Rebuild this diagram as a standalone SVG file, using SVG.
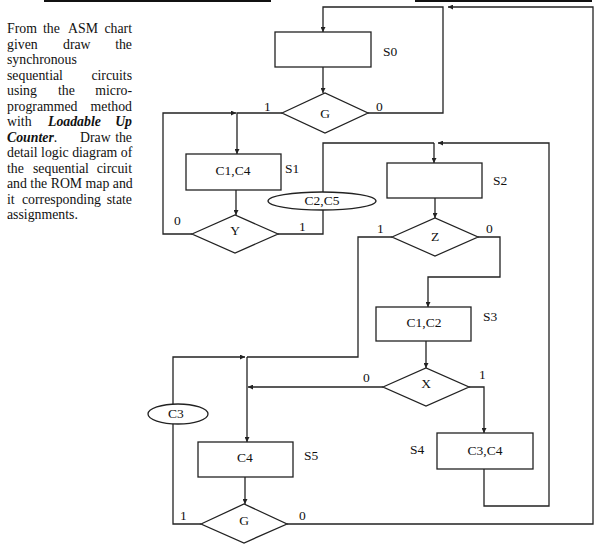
<svg xmlns="http://www.w3.org/2000/svg" width="599" height="548" viewBox="0 0 599 548">
<style>
.bx{fill:#fff;stroke:#222;stroke-width:1.3}
.cn{fill:none;stroke:#222;stroke-width:1.3}
.t{font-family:"Liberation Serif","Times New Roman",serif;font-size:13.5px;fill:#111}
.c{text-anchor:middle}
.p{font-family:"Liberation Serif","Times New Roman",serif;font-size:13.8px;fill:#111}
.bi{font-weight:bold;font-style:italic}
.e{text-anchor:end}
</style>
<defs>
<marker id="ah" markerUnits="userSpaceOnUse" markerWidth="6" markerHeight="5" refX="5" refY="2.5" orient="auto">
<path d="M0,0 L5,2.5 L0,5 z" fill="#222"/>
</marker>
</defs>
<rect x="0" y="0" width="599" height="548" fill="#fff"/>
<rect x="44" y="0" width="227" height="2" fill="#111"/>
<rect x="415" y="0" width="177" height="2" fill="#111"/>

<g id="question">
<text class="p" y="33"><tspan x="7">From</tspan><tspan x="43">the</tspan><tspan x="68">ASM</tspan><tspan x="132" class="e">chart</tspan></text>
<text class="p" y="48.5"><tspan x="7">given</tspan><tspan x="63">draw</tspan><tspan x="132" class="e">the</tspan></text>
<text class="p" x="7" y="64">synchronous</text>
<text class="p" y="79.5"><tspan x="7">sequential</tspan><tspan x="132" class="e">circuits</tspan></text>
<text class="p" y="95"><tspan x="7">using</tspan><tspan x="58">the</tspan><tspan x="132" class="e">micro-</tspan></text>
<text class="p" y="110.5"><tspan x="7">programmed</tspan><tspan x="132" class="e">method</tspan></text>
<text class="p" y="126"><tspan x="7">with</tspan><tspan x="48" class="bi">Loadable</tspan><tspan x="132" class="e bi">Up</tspan></text>
<text class="p" y="141.5"><tspan x="7" class="bi">Counter</tspan><tspan>.</tspan><tspan x="80">Draw</tspan><tspan x="132" class="e">the</tspan></text>
<text class="p" x="7" y="157">detail logic diagram of</text>
<text class="p" y="172.5"><tspan x="7">the</tspan><tspan x="33">sequential</tspan><tspan x="132" class="e">circuit</tspan></text>
<text class="p" x="7" y="188">and the ROM map and</text>
<text class="p" y="204"><tspan x="7">it</tspan><tspan x="22">corresponding</tspan><tspan x="132" class="e">state</tspan></text>
<text class="p" x="7" y="219">assignments.</text>
</g>

<g id="connectors">
<path class="cn" d="M323,67 V93" marker-end="url(#ah)"/>
<path class="cn" d="M282,113 H237 V154" marker-end="url(#ah)"/>
<path class="cn" d="M192,234 H163 V113 H236" marker-end="url(#ah)"/>
<path class="cn" d="M236,190 V215" marker-end="url(#ah)"/>
<path class="cn" d="M278,234 H323 V143 H434"/>
<path class="cn" d="M484,469 V506 H549 V143 H438" marker-end="url(#ah)"/>
<path class="cn" d="M434,143 V163" marker-end="url(#ah)"/>
<path class="cn" d="M435,198 V218" marker-end="url(#ah)"/>
<path class="cn" d="M392,237 H358 V357 H247"/>
<path class="cn" d="M201,524 H173 V357 H245" marker-end="url(#ah)"/>
<path class="cn" d="M247,357 V442" marker-end="url(#ah)"/>
<path class="cn" d="M383,387 H248" marker-end="url(#ah)"/>
<path class="cn" d="M478,237 H500 V277 H428 V307" marker-end="url(#ah)"/>
<path class="cn" d="M426,341 V368" marker-end="url(#ah)"/>
<path class="cn" d="M469,387 H484 V433" marker-end="url(#ah)"/>
<path class="cn" d="M245,477 V504" marker-end="url(#ah)"/>
<path class="cn" d="M287,524 H593 V7 H448" marker-end="url(#ah)"/>
<path class="cn" d="M368,113 H443 V7 H323 V32" marker-end="url(#ah)"/>
<g id="conditional-outputs">
<ellipse class="bx" cx="322" cy="201" rx="54" ry="9"/>
<text class="t c" x="322" y="205">C2,C5</text>
<ellipse class="bx" cx="178" cy="414" rx="30" ry="10"/>
<text class="t c" x="176" y="418">C3</text>
</g>
<g id="branch-labels">
<text class="t" x="264" y="111">1</text>
<text class="t" x="376" y="111">0</text>
<text class="t" x="174" y="225">0</text>
<text class="t" x="299" y="231">1</text>
<text class="t" x="377" y="233">1</text>
<text class="t" x="486" y="233">0</text>
<text class="t" x="363" y="382">0</text>
<text class="t" x="479" y="379">1</text>
<text class="t" x="180" y="520">1</text>
<text class="t" x="299" y="520">0</text>
</g>
</g>

<g id="S0">
<rect class="bx" x="275" y="32" width="96" height="35"/>
<text class="t" x="383" y="56">S0</text>
</g>
<g id="G0">
<polygon class="bx" points="282,113 325,93 368,113 325,133"/>
<text class="t c" x="325" y="117.5">G</text>
</g>
<g id="S1">
<rect class="bx" x="186" y="154" width="95" height="36"/>
<text class="t c" x="233" y="175">C1,C4</text>
<text class="t" x="285" y="173">S1</text>
</g>
<g id="Y">
<polygon class="bx" points="192,234 235,215 278,234 235,253"/>
<text class="t c" x="235" y="235">Y</text>
</g>
<g id="S2">
<rect class="bx" x="387" y="163" width="95" height="35"/>
<text class="t" x="493" y="185">S2</text>
</g>
<g id="Z">
<polygon class="bx" points="392,237 435,218 478,237 435,256"/>
<text class="t c" x="435" y="241">Z</text>
</g>
<g id="S3">
<rect class="bx" x="376" y="307" width="95" height="34"/>
<text class="t c" x="424" y="327">C1,C2</text>
<text class="t" x="483" y="321">S3</text>
</g>
<g id="X">
<polygon class="bx" points="383,387 426,368 469,387 426,406"/>
<text class="t c" x="426" y="388">X</text>
</g>
<g id="S4">
<rect class="bx" x="437" y="433" width="96" height="36"/>
<text class="t c" x="485" y="455">C3,C4</text>
<text class="t" x="410" y="454">S4</text>
</g>
<g id="S5">
<rect class="bx" x="198" y="442" width="95" height="35"/>
<text class="t c" x="245" y="462">C4</text>
<text class="t" x="304" y="460">S5</text>
</g>
<g id="G5">
<polygon class="bx" points="201,524 244,504 287,524 244,543"/>
<text class="t c" x="244" y="525">G</text>
</g>
</svg>
